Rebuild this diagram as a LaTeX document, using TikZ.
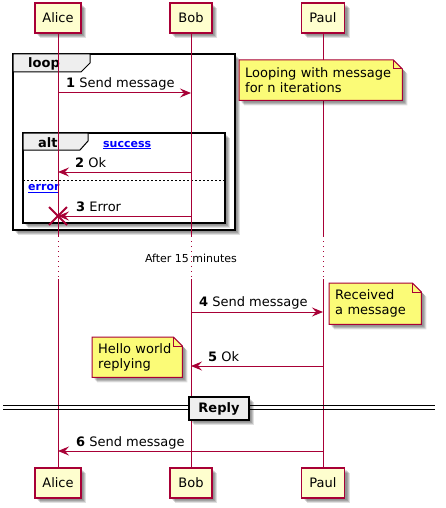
\documentclass[tikz,border=0pt]{standalone}
\usepackage{fontspec}
\setmainfont{DejaVu Sans}
\usetikzlibrary{arrows.meta,shadows,backgrounds}
\definecolor{pred}{HTML}{A80036}
\definecolor{pyel}{HTML}{FEFECE}
\definecolor{pnote}{HTML}{FBFB77}
\definecolor{pgrp}{HTML}{EEEEEE}
\definecolor{plink}{HTML}{0000FF}
\pgfdeclarelayer{notebg}
\pgfdeclarelayer{notefg}
\pgfsetlayers{background,main,notebg,notefg}
\begin{document}
\begin{tikzpicture}[x=1pt,y=-1pt,
  shad/.style={
    drop shadow={shadow xshift=5pt,shadow yshift=-5pt,opacity=.12,fill=black},
    drop shadow={shadow xshift=4pt,shadow yshift=-4pt,opacity=.15,fill=black},
    drop shadow={shadow xshift=3pt,shadow yshift=-3pt,opacity=.15,fill=black},
    drop shadow={shadow xshift=2pt,shadow yshift=-2pt,opacity=.1,fill=black}},
  part/.style={draw=pred, fill=pyel, line width=1.2pt, minimum height=30pt, inner sep=0pt,
    font=\fontsize{13}{15}\selectfont, shad},
  life/.style={draw=pred, line width=1pt},
  lifedot/.style={draw=pred, line width=1pt, dash pattern=on 1pt off 4pt},
  msg/.style={draw=pred, line width=1pt, -{Stealth[length=11pt,width=9pt,inset=4pt]}},
  lbl/.style={anchor=base west, inner sep=0pt, font=\fontsize{13}{15}\selectfont},
  grp/.style={draw=black, line width=1.8pt, fill=white, shad},
  tab/.style={draw=black, line width=1pt, fill=pgrp},
  grplbl/.style={anchor=base west, inner sep=0pt, font=\fontsize{13}{15}\selectfont\bfseries},
  link/.style={anchor=base west, inner sep=0pt, text=plink, font=\fontsize{11}{13}\selectfont\bfseries},
  notetext/.style={anchor=north west, inner ysep=0pt, inner xsep=6pt, align=left,
    font=\fontsize{13}{15}\selectfont},
  notebox/.style={draw=pred, fill=pnote, line width=1pt, shad},
  notefold/.style={draw=pred, line width=1pt},
]
\useasboundingbox (0,0) rectangle (446,508);

% participants
\node[part, minimum width=46pt] (alice) at (58,18) {Alice};
\node[part, minimum width=42pt] (bob) at (191,18) {Bob};
\node[part, minimum width=43pt] (paul) at (323,18) {Paul};
\node[part, minimum width=46pt] (alice2) at (58,483) {Alice};
\node[part, minimum width=42pt] (bob2) at (191,483) {Bob};
\node[part, minimum width=43pt] (paul2) at (323,483) {Paul};

% loop group
\path[grp] (13,54) rectangle (235,230);
\path[tab] (13,54) -- (90,54) -- (90,63) -- (81,72) -- (13,72) -- cycle;
\node[grplbl] (looplbl) at (28,67.5) {loop};

% alt group
\path[grp] (23,133) rectangle (225,223);
\path[tab] (23,133) -- (88,133) -- (88,141) -- (80,150) -- (23,150) -- cycle;
\node[grplbl] (altlbl) at (38,147) {alt};
\node[link] (succ) at (103,147) {\underline{success}};
\draw[black, line width=0.8pt, dash pattern=on 2pt off 2pt] (23,180.5) -- (225,180.5);
\node[link] (err) at (28,190.5) {\underline{error}};

% lifelines
\coordinate (a1) at (58,236); \coordinate (a2) at (58,279);
\coordinate (b1) at (191,236); \coordinate (b2) at (191,279);
\coordinate (p1) at (323,236); \coordinate (p2) at (323,279);
\draw[life] (alice.south) -- (a1); \draw[lifedot] (a1) -- (a2); \draw[life] (a2) -- (alice2.north);
\draw[life] (bob.south) -- (b1); \draw[lifedot] (b1) -- (b2); \draw[life] (b2) -- (bob2.north);
\draw[life] (paul.south) -- (p1); \draw[lifedot] (p1) -- (p2); \draw[life] (p2) -- (paul2.north);

% message end points
\coordinate (m1a) at (58,93);   \coordinate (m1b) at (191,93);
\coordinate (m2a) at (191,172); \coordinate (m2b) at (58,172);
\coordinate (m3a) at (191,216); \coordinate (m3b) at (58,216);
\coordinate (m4a) at (191,312); \coordinate (m4b) at (323,312);
\coordinate (m5a) at (323,366); \coordinate (m5b) at (191,366);
\coordinate (m6a) at (323,451); \coordinate (m6b) at (58,451);

\draw[msg] (m1a) -- (m1b);
\node[lbl] (l1) at (66,88) {\textbf{1} Send message};
\draw[msg] (m2a) -- (m2b);
\node[lbl] (l2) at (75,167) {\textbf{2} Ok};
\draw[msg] (m3a) -- (m3b);
\node[lbl] (l3) at (76,211) {\textbf{3} Error};
\draw[pred, line width=2pt] ([shift={(-9pt,-9pt)}]m3b) -- ([shift={(9pt,9pt)}]m3b);
\draw[pred, line width=2pt] ([shift={(-9pt,9pt)}]m3b) -- ([shift={(9pt,-9pt)}]m3b);

\node[anchor=base, inner sep=0pt, font=\fontsize{11}{13}\selectfont] (delay) at (191,262) {After 15 minutes};

\draw[msg] (m4a) -- (m4b);
\node[lbl] (l4) at (199,306.5) {\textbf{4} Send message};
\draw[msg] (m5a) -- (m5b);
\node[lbl] (l5) at (208,361) {\textbf{5} Ok};

% divider
\draw[black, line width=1.3pt] (3,405.5) -- (435,405.5);
\draw[black, line width=1.3pt] (3,409.5) -- (435,409.5);
\node[draw=black, fill=pgrp, line width=1.5pt, minimum width=60pt, minimum height=23pt, inner sep=0pt,
  font=\fontsize{13}{15}\selectfont\bfseries, shad] (reply) at (219,408.5) {Reply};

\draw[msg] (m6a) -- (m6b);
\node[lbl] (l6) at (76,446) {\textbf{6} Send message};

% notes
\begin{pgfonlayer}{notefg}
\node[notetext, text width=151pt, minimum height=40pt] (n1) at (239,60) {Looping with message\\for n iterations};
\node[notetext, text width=80pt, minimum height=41pt] (n2) at (329,283) {Received\\a message};
\node[notetext, text width=78pt, minimum height=40pt] (n3) at (92,337) {Hello world\\replying};
\end{pgfonlayer}
\begin{pgfonlayer}{notebg}
\foreach \n in {n1,n2,n3}{
  \path[notebox] (\n.north west) -- ([xshift=-9pt]\n.north east) -- ([yshift=-9pt]\n.north east)
    -- (\n.south east) -- (\n.south west) -- cycle;
  \draw[notefold] ([xshift=-9pt]\n.north east) |- ([yshift=-9pt]\n.north east);
}
\end{pgfonlayer}
\end{tikzpicture}
\end{document}
